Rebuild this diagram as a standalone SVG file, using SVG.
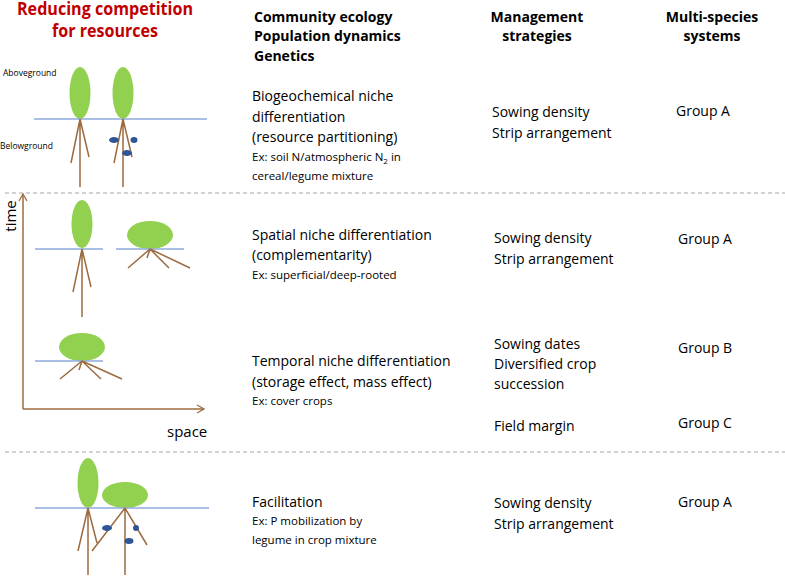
<svg xmlns="http://www.w3.org/2000/svg" width="785" height="577" viewBox="0 0 785 577">
<style>
text{font-family:"Open Sans","Liberation Sans",sans-serif;fill:#000}
.t{font-size:14px}.s{font-size:11.5px}.h{font-size:14px;font-weight:bold}
.leaf{fill:#92d050}.g{stroke:#8eaadb;stroke-width:1.5}.r{stroke:#9c6b3f;stroke-width:1.5;fill:none}
.n{fill:#2f5597}.d{stroke:#a6a6a6;stroke-dasharray:4,3;stroke-width:1}
</style>
<defs><marker id="a" markerWidth="10" markerHeight="10" refX="8" refY="5" orient="auto" markerUnits="userSpaceOnUse"><path d="M1,1 L8,5 L1,9" fill="none" stroke="#9c6b3f" stroke-width="1.3"/></marker></defs>
<g id="title"><text x="105" y="15" text-anchor="middle" textLength="176" lengthAdjust="spacingAndGlyphs" style="font-size:18px;font-weight:bold;fill:#c00000">Reducing competition</text><text x="105" y="37" text-anchor="middle" textLength="106" lengthAdjust="spacingAndGlyphs" style="font-size:18px;font-weight:bold;fill:#c00000">for resources</text></g>
<g id="headers"><text class="h" x="254" y="22">Community ecology</text><text class="h" x="254" y="41">Population dynamics</text><text class="h" x="254" y="61">Genetics</text>
<text class="h" x="537" y="22" text-anchor="middle">Management</text><text class="h" x="537" y="41" text-anchor="middle">strategies</text>
<text class="h" x="712" y="22" text-anchor="middle">Multi-species</text><text class="h" x="712" y="41" text-anchor="middle">systems</text></g>
<g id="connectors"><line class="d" x1="5" y1="193" x2="785" y2="193"/><line class="d" x1="5" y1="452" x2="785" y2="452"/>
<line class="r" x1="23" y1="409" x2="23" y2="194" marker-end="url(#a)"/><line class="r" x1="23" y1="409" x2="204" y2="409" marker-end="url(#a)"/></g>
<g id="row1-plants"><text x="3" y="76" style="font-size:8.5px">Aboveground</text><text x="0" y="149" style="font-size:8.5px">Belowground</text>
<ellipse class="leaf" cx="80" cy="93" rx="10.5" ry="26"/><ellipse class="leaf" cx="123" cy="93" rx="10.5" ry="26"/>
<line class="g" x1="34" y1="119" x2="207" y2="119"/>
<path class="r" d="M80,119V187M80,119L71,163M80,119L89,157M123,119V187M123,119L114,163M123,119L132,157"/>
<ellipse class="n" cx="114" cy="140" rx="5" ry="3"/><ellipse class="n" cx="134" cy="140" rx="3.5" ry="3"/><ellipse class="n" cx="127" cy="153" rx="5" ry="3"/></g>
<g id="row2-plants"><text x="0" y="0" transform="translate(16,216) rotate(-90)" text-anchor="middle" style="font-size:15px">time</text>
<ellipse class="leaf" cx="82" cy="224" rx="10.5" ry="24"/><line class="g" x1="35" y1="249" x2="103" y2="249"/>
<path class="r" d="M82,249V317M82,249L73,292M82,249L91,287"/>
<ellipse class="leaf" cx="150" cy="235" rx="23" ry="14"/><line class="g" x1="116" y1="249" x2="184" y2="249"/>
<path class="r" d="M150,249L128,268M150,249L147,258M150,249L169,268M150,249L190,268"/></g>
<g id="row3-plants"><ellipse class="leaf" cx="82" cy="347" rx="23" ry="14"/><line class="g" x1="35" y1="361" x2="103" y2="361"/>
<path class="r" d="M82,361L60,379M82,361L79,370M82,361L101,379M82,361L122,379"/>
<text x="167" y="437" style="font-size:15px">space</text></g>
<g id="row4-plants"><ellipse class="leaf" cx="88" cy="483" rx="10.5" ry="25"/><ellipse class="leaf" cx="125" cy="495" rx="23" ry="13"/>
<line class="g" x1="35" y1="508" x2="209" y2="508"/>
<path class="r" d="M88,508V575M88,508L78,551M88,508L97,543M125,508V575M125,508L92,551M125,508L147,545"/>
<ellipse class="n" cx="107" cy="528" rx="5" ry="3"/><ellipse class="n" cx="136" cy="528" rx="3" ry="3"/><ellipse class="n" cx="129" cy="541" rx="4.5" ry="3"/></g>
<g id="row1"><text class="t" x="252" y="101">Biogeochemical niche</text><text class="t" x="252" y="122">differentiation</text><text class="t" x="252" y="142">(resource partitioning)</text>
<text class="s" x="252" y="161">Ex: soil N/atmospheric N<tspan dy="3" style="font-size:8px">2</tspan><tspan dy="-3"> in</tspan></text><text class="s" x="252" y="180">cereal/legume mixture</text>
<text class="t" x="492" y="117">Sowing density</text><text class="t" x="492" y="138">Strip arrangement</text><text class="t" x="676" y="116">Group A</text></g>
<g id="row2"><text class="t" x="252" y="240">Spatial niche differentiation</text><text class="t" x="252" y="260">(complementarity)</text><text class="s" x="252" y="279">Ex: superficial/deep-rooted</text>
<text class="t" x="494" y="243">Sowing density</text><text class="t" x="494" y="264">Strip arrangement</text><text class="t" x="678" y="244">Group A</text></g>
<g id="row3"><text class="t" x="252" y="366">Temporal niche differentiation</text><text class="t" x="252" y="387">(storage effect, mass effect)</text><text class="s" x="252" y="405">Ex: cover crops</text>
<text class="t" x="494" y="349">Sowing dates</text><text class="t" x="494" y="369">Diversified crop</text><text class="t" x="494" y="389">succession</text><text class="t" x="494" y="431">Field margin</text>
<text class="t" x="678" y="353">Group B</text><text class="t" x="678" y="428">Group C</text></g>
<g id="row4"><text class="t" x="252" y="507">Facilitation</text><text class="s" x="252" y="525">Ex: P mobilization by</text><text class="s" x="252" y="544">legume in crop mixture</text>
<text class="t" x="494" y="508">Sowing density</text><text class="t" x="494" y="529">Strip arrangement</text><text class="t" x="678" y="507">Group A</text></g>
</svg>
